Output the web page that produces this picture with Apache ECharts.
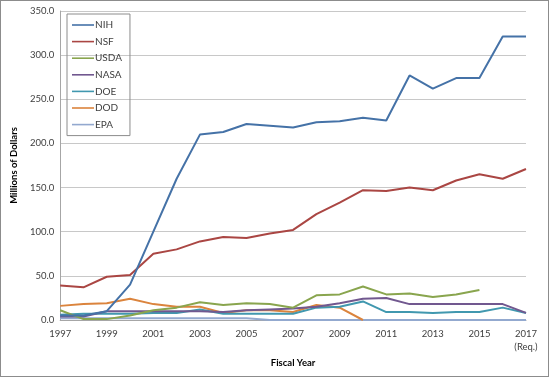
<!DOCTYPE html>
<html>
<head>
<meta charset="utf-8">
<script src="https://cdn.jsdelivr.net/npm/echarts@6/dist/echarts.min.js"></script>
<style>
  html, body { margin: 0; padding: 0; background: #fff; }
  #chart { width: 549px; height: 377px; box-sizing: border-box; border: 1px solid #8c8c8c; }
</style>
</head>
<body>
<div id="chart"></div>
<script>
var years = ['1997', '1998', '1999', '2000', '2001', '2002', '2003', '2004', '2005', '2006', '2007',
  '2008', '2009', '2010', '2011', '2012', '2013', '2014', '2015', '2016', '2017\n(Req.)'];

var nih  = [5, 5, 10, 40, 100, 160, 210, 213, 222, 220, 218, 224, 225, 229, 226, 277, 262, 274, 274, 321, 321];
var nsf  = [39, 37, 49, 51, 75, 80, 89, 94, 93, 98, 102, 120, 133, 147, 146, 150, 147, 158, 165, 160, 171];
var usda = [11, 1, 1, 5, 11, 14, 20, 17, 19, 18, 14, 28, 29, 38, 29, 30, 26, 29, 34, null, null];
var nasa = [4, 4, 10, 10, 10, 10, 10, 9, 11, 12, 13, 15, 19, 24, 25, 18, 18, 18, 18, 18, 8];
var doe  = [6, 7, 7, 7, 8, 8, 12, 7, 7, 7, 7, 14, 15, 21, 9, 9, 8, 9, 9, 14, 8];
var dod  = [16, 18, 19, 24, 18, 15, 15, 8, 11, 11, 9, 17, 14, 0, null, null, null, null, null, null, null];
var epa  = [2, 2, 2, 2, 2, 2, 2, 2, 2, 0, 0, 0, 0, 0, 0, 0, 0, 0, 0, 0, 0];

var names = ['NIH', 'NSF', 'USDA', 'NASA', 'DOE', 'DOD', 'EPA'];
var values = [nih, nsf, usda, nasa, doe, dod, epa];
var colors = ['#4572A7', '#AA4643', '#89A54E', '#71588F', '#4198AF', '#DB843D', '#93A9CF'];

var font = 'Lato, "Liberation Sans", sans-serif';

var chart = echarts.init(document.getElementById('chart'));

var series = [];
// draw EPA first so others sit on top, like in the original
for (var i = values.length - 1; i >= 0; i--) {
  series.push({
    name: names[i],
    type: 'line',
    data: values[i],
    symbol: 'none',
    lineStyle: { width: 2, color: colors[i] },
    itemStyle: { color: colors[i] },
    z: 10 - i
  });
}

chart.setOption({
  animation: false,
  color: colors,
  grid: { left: 57, right: 22, top: 10, bottom: 56 },
  legend: {
    data: names,
    orient: 'vertical',
    left: 66,
    top: 13,
    padding: [6, 8, 6, 5],
    itemGap: 6.6,
    itemWidth: 22,
    itemHeight: 11,
    borderColor: '#8c8c8c',
    borderWidth: 1,
    borderRadius: 0,
    icon: 'path://M0,4.7 L22,4.7 L22,6.3 L0,6.3 Z',
    textStyle: { fontFamily: font, fontSize: 10, color: '#404040', padding: [0, 0, 0, -4] }
  },
  xAxis: {
    type: 'category',
    data: years,
    boundaryGap: false,
    name: 'Fiscal Year',
    nameLocation: 'middle',
    nameGap: 38,
    nameTextStyle: { fontFamily: font, fontSize: 9.5, fontWeight: 'bold', color: '#000' },
    axisLine: { lineStyle: { color: '#a6a6a6' } },
    axisTick: { show: false },
    axisLabel: { interval: 1, fontFamily: font, fontSize: 9.5, color: '#404040', margin: 7, lineHeight: 13 },
    splitLine: { show: false }
  },
  yAxis: {
    type: 'value',
    min: 0,
    max: 350,
    interval: 50,
    name: 'Millions of Dollars',
    nameLocation: 'middle',
    nameGap: 34,
    nameTextStyle: { fontFamily: font, fontSize: 9.5, fontWeight: 'bold', color: '#000' },
    axisLine: { show: true, lineStyle: { color: '#a6a6a6' } },
    axisTick: { show: false },
    axisLabel: {
      fontFamily: font, fontSize: 9.5, color: '#404040', margin: 6,
      formatter: function (v) { return v.toFixed(1); }
    },
    splitLine: { lineStyle: { color: '#c8c8c8', width: 1 } }
  },
  series: series
});
</script>
</body>
</html>
